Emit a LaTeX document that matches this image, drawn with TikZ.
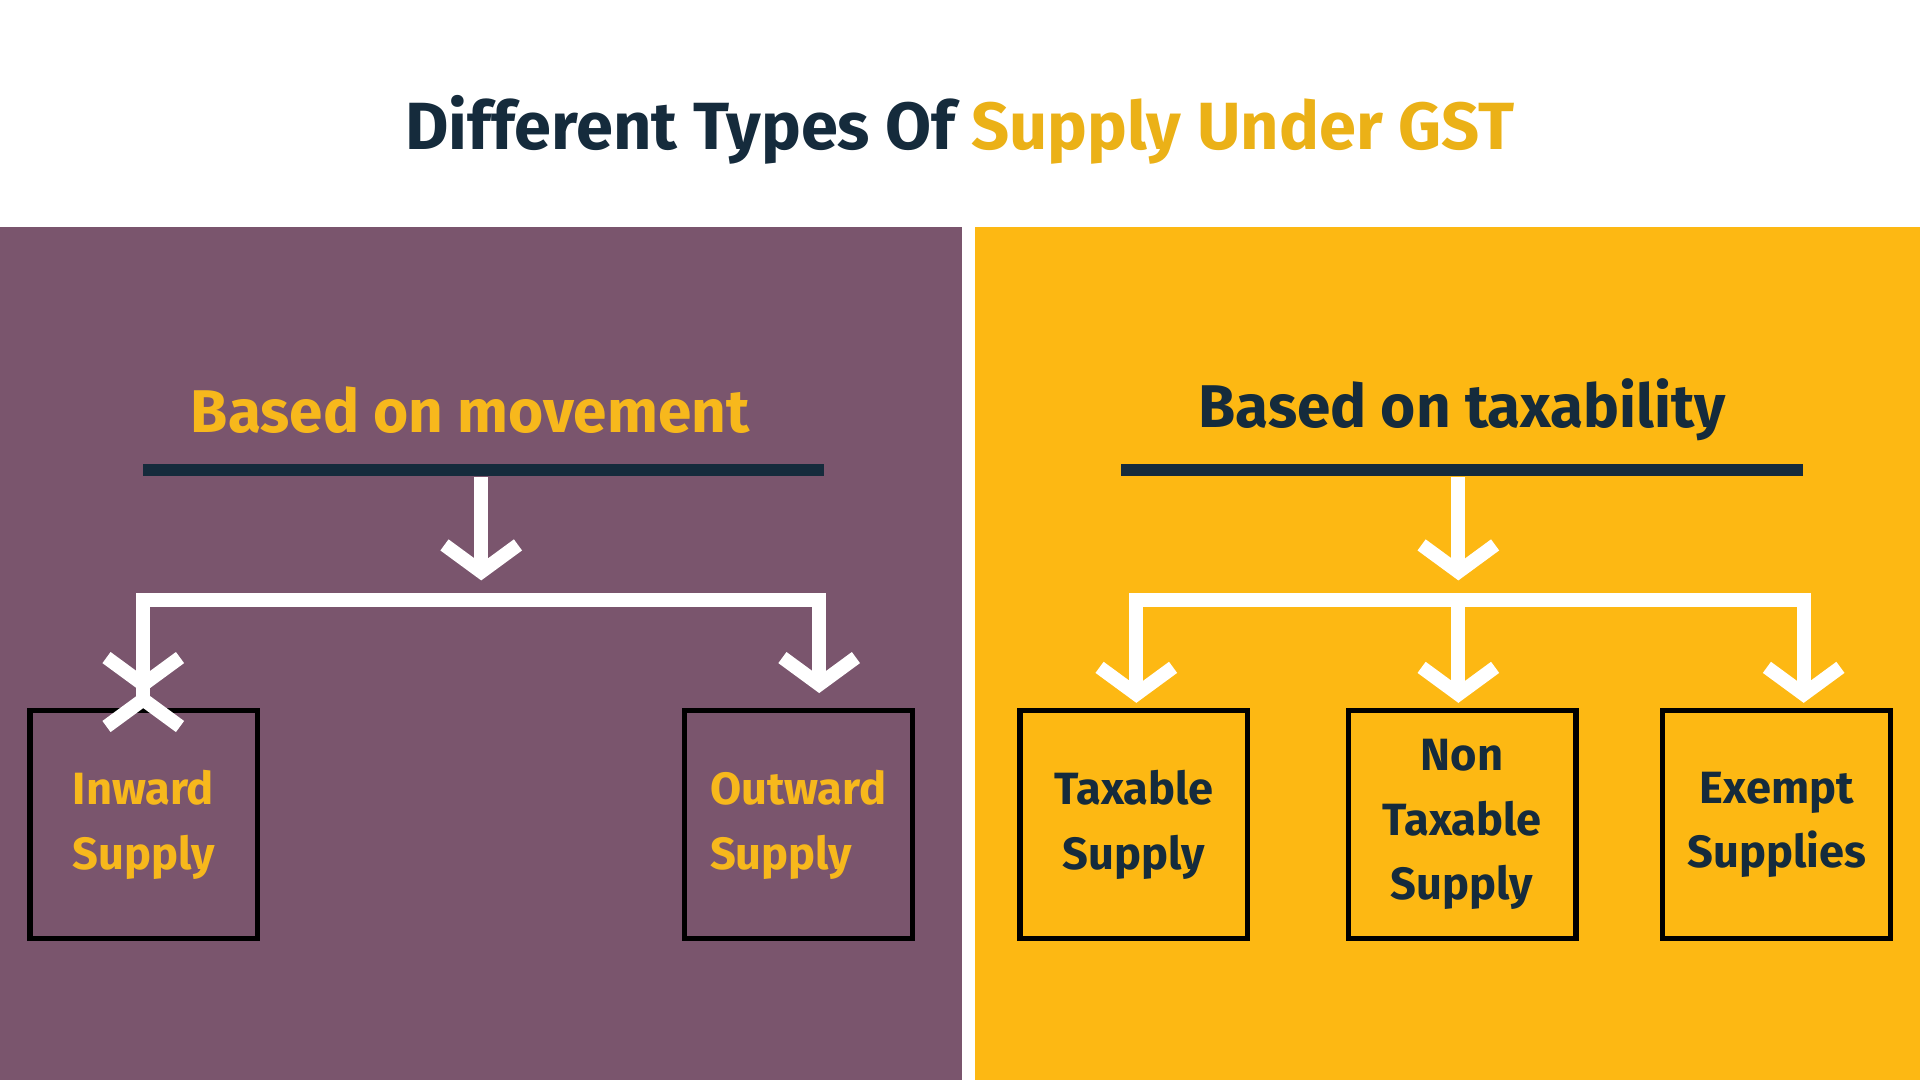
\documentclass[tikz,border=0pt]{standalone}
\usepackage{fontspec}
\setmainfont{Fira Sans}[UprightFont=* SemiBold, BoldFont=* Bold]
\usetikzlibrary{arrows.meta}
\definecolor{navy}{HTML}{152B3C}
\definecolor{gold}{HTML}{EBB117}
\definecolor{plum}{HTML}{7A556D}
\definecolor{sun}{HTML}{FDB813}
\definecolor{boxgold}{HTML}{F7B81C}
\begin{document}
\begin{tikzpicture}[x=0.01cm,y=-0.01cm,
  boxn/.style={draw=black,line width=1.2pt,minimum width=1.86cm,minimum height=1.86cm,inner sep=0pt,align=left,font=\fontsize{10.5}{15}\selectfont\bfseries},
  barn/.style={fill=navy,minimum width=5.56cm,minimum height=0.1cm,inner sep=0pt},
  head/.style={font=\fontsize{14}{16}\selectfont\bfseries},
  wline/.style={draw=white,line width=3.2pt},
  warr/.style={wline,-{Straight Barb[length=0.22cm,width=0.6cm,line width=3.2pt]}}]
\useasboundingbox (0,0) rectangle (1568,882);
\fill[white] (0,0) rectangle (1568,882);
\fill[plum] (0,185) rectangle (786,882);
\fill[sun] (796,185) rectangle (1568,882);
\node[font=\fontsize{15.5}{18}\selectfont\bfseries] (title) at (784,106) {\textcolor{navy}{Different Types Of} \textcolor{gold}{Supply Under GST}};
% left
\node[head,text=boxgold] (hl) at (384,335) {Based on movement};
\node[barn] (bl) at (395,384) {};
\node[boxn,text=boxgold] (in) at (117.5,673.5) {Inward\\Supply};
\node[boxn,text=boxgold] (out) at (652,673.5) {Outward\\Supply};
\coordinate (jl) at (393,490);
\draw[warr] (bl.south -| jl) -- (393,474);
\draw[wline,line cap=rect] (117,490) -- (669,490);
\draw[warr] (117,490) -- (in.north -| 117,0) ++(0,-14);
\draw[warr] (669,490) -- (669,566);
\draw[warr] (117,490) -- (117,566);
% right
\node[head,text=navy] (hr) at (1194,335) {Based on taxability};
\node[barn] (br) at (1194,384) {};
\node[boxn,text=navy,align=center] (tax) at (926,673.5) {Taxable\\Supply};
\node[boxn,text=navy,align=center] (non) at (1194,673.5) {Non\\Taxable\\Supply};
\node[boxn,text=navy,align=center] (ex) at (1451,673.5) {Exempt\\Supplies};
\coordinate (jr) at (1191,490);
\draw[warr] (br.south -| jr) -- (1191,474);
\draw[wline,line cap=rect] (928,490) -- (1473,490);
\draw[warr] (928,490) -- (928,574);
\draw[warr] (1191,490) -- (1191,574);
\draw[warr] (1473,490) -- (1473,574);
\end{tikzpicture}
\end{document}
